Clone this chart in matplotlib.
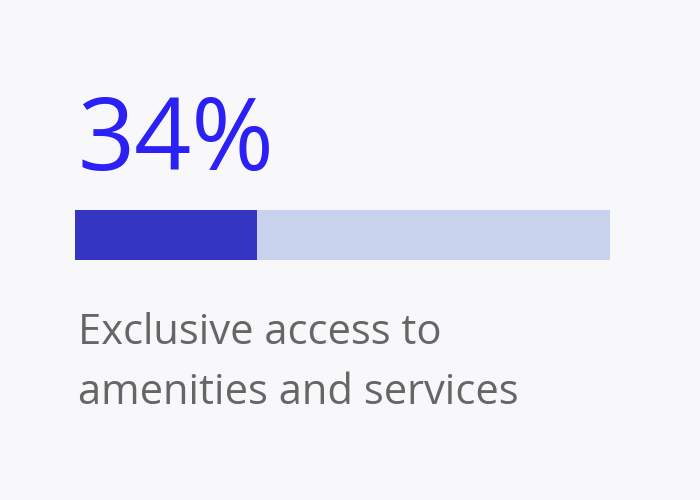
import matplotlib.pyplot as plt

value = 34
label_lines = ["Exclusive access to", "amenities and services"]

bg = '#f8f8fb'
fig = plt.figure(figsize=(7, 5), dpi=100, facecolor=bg)
ax = fig.add_axes([0, 0, 1, 1])
ax.set_xlim(0, 700)
ax.set_ylim(500, 0)
ax.axis('off')

# big number
ax.text(78, 170, f"{value}%", fontsize=72, color='#2b20f5', family='Open Sans',
        weight='medium', va='baseline', ha='left')

# progress bar
x0, x1 = 75, 610
ax.barh(235, x1 - x0, left=x0, height=50, color='#c9d2ec')
ax.barh(235, (x1 - x0) * value / 100, left=x0, height=50, color='#3535c4')

# label
for i, line in enumerate(label_lines):
    ax.text(78, 344 + i * 60, line, fontsize=30, color='#666666', family='Open Sans',
            va='baseline', ha='left')

fig.savefig('out.png', dpi=100, facecolor=bg)
